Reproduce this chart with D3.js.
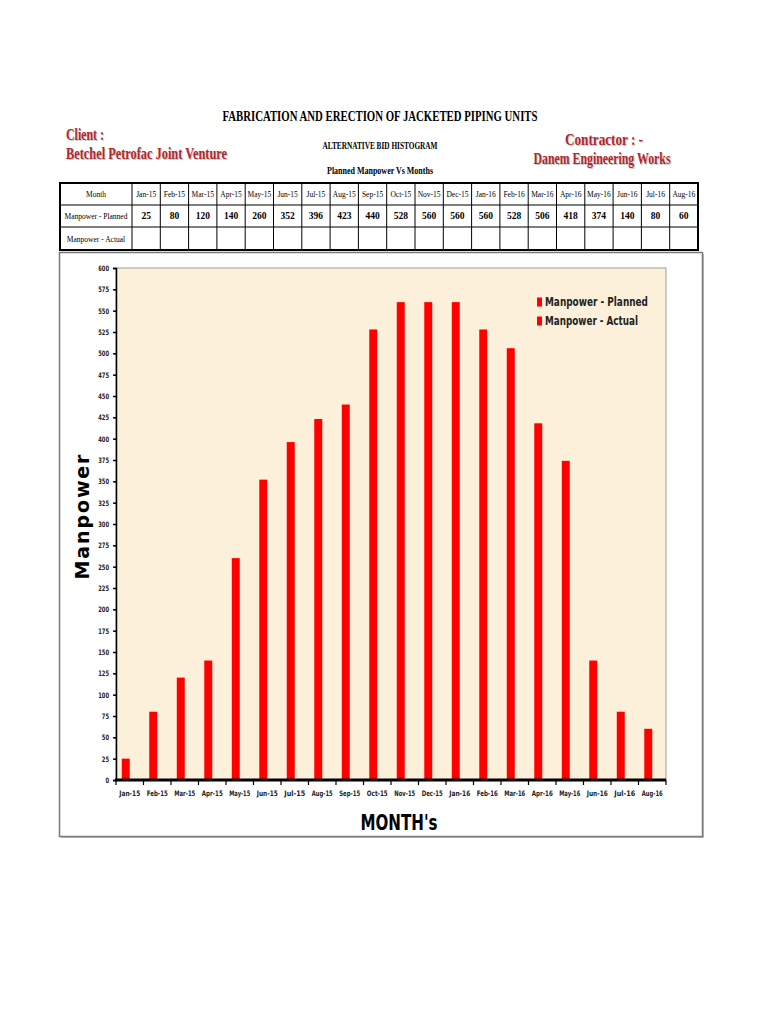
<!DOCTYPE html>
<html>
<head>
<meta charset="utf-8">
<script src="https://cdn.jsdelivr.net/npm/d3@7"></script>
<style>
  body { margin: 0; background: #fff; }
  svg { display: block; }
</style>
</head>
<body>
<svg id="page" width="768" height="1024"></svg>
<script>
const months = ['Jan-15','Feb-15','Mar-15','Apr-15','May-15','Jun-15','Jul-15','Aug-15','Sep-15','Oct-15',
                'Nov-15','Dec-15','Jan-16','Feb-16','Mar-16','Apr-16','May-16','Jun-16','Jul-16','Aug-16'];
const planned = [25, 80, 120, 140, 260, 352, 396, 423, 440, 528, 560, 560, 560, 528, 506, 418, 374, 140, 80, 60];
const actual = [null, null, null, null, null, null, null, null, null, null,
                null, null, null, null, null, null, null, null, null, null];
const seriesNames = ['Manpower - Planned', 'Manpower - Actual'];
const yTicks = [0,25,50,75,100,125,150,175,200,225,250,275,300,325,350,375,400,425,450,475,500,525,550,575,600];

const svg = d3.select('#page');
const serif = "'Liberation Serif', 'DejaVu Serif', serif";
const narrow = "'Liberation Sans Narrow', 'DejaVu Sans Condensed', sans-serif";
const darkRed = '#b3262a';

// ---------- heading texts ----------
svg.append('text')
    .attr('x', 380).attr('y', 121)
    .attr('text-anchor', 'middle')
    .attr('textLength', 315).attr('lengthAdjust', 'spacingAndGlyphs')
    .style('font-family', serif).style('font-weight', 'bold').style('font-size', '15px')
    .text('FABRICATION AND ERECTION OF JACKETED PIPING UNITS');

svg.append('text')
    .attr('x', 380).attr('y', 149)
    .attr('text-anchor', 'middle')
    .attr('textLength', 115).attr('lengthAdjust', 'spacingAndGlyphs')
    .style('font-family', serif).style('font-weight', 'bold').style('font-size', '10px')
    .text('ALTERNATIVE BID HISTOGRAM');

svg.append('text')
    .attr('x', 380).attr('y', 174)
    .attr('text-anchor', 'middle')
    .attr('textLength', 106).attr('lengthAdjust', 'spacingAndGlyphs')
    .style('font-family', serif).style('font-weight', 'bold').style('font-size', '10px')
    .text('Planned Manpower Vs Months');

const redLines = [
    { text: 'Client :', x: 66, y: 140, len: 38, anchor: 'start' },
    { text: 'Betchel Petrofac Joint Venture', x: 66, y: 159, len: 161, anchor: 'start' },
    { text: 'Contractor  : -', x: 604, y: 145, len: 78, anchor: 'middle' },
    { text: 'Danem Engineering Works', x: 602, y: 164, len: 137, anchor: 'middle' }
];
redLines.forEach(d => {
    svg.append('text')
        .attr('x', d.x + 1).attr('y', d.y + 1)
        .attr('text-anchor', d.anchor)
        .attr('textLength', d.len).attr('lengthAdjust', 'spacingAndGlyphs')
        .style('font-family', serif).style('font-weight', 'bold').style('font-size', '16px')
        .style('fill', '#c9c9c9')
        .text(d.text);
    svg.append('text')
        .attr('x', d.x).attr('y', d.y)
        .attr('text-anchor', d.anchor)
        .attr('textLength', d.len).attr('lengthAdjust', 'spacingAndGlyphs')
        .style('font-family', serif).style('font-weight', 'bold').style('font-size', '16px')
        .style('fill', darkRed)
        .text(d.text);
});

// ---------- table ----------
const tblLeft = 60, tblRight = 698, firstCol = 132;
const rowY = [183, 205, 227, 250];
const colX = d3.scaleBand().domain(months).range([firstCol, tblRight]);
const table = svg.append('g');

const rows = [
    { label: 'Month', cells: months, bold: false, size: 7.5 },
    { label: 'Manpower - Planned', cells: planned, bold: true, size: 9.5 },
    { label: 'Manpower - Actual', cells: actual, bold: false, size: 7.5 }
];

rows.forEach((r, i) => {
    const yMid = (rowY[i] + rowY[i + 1]) / 2;
    table.append('text')
        .attr('x', (tblLeft + firstCol) / 2).attr('y', yMid + 3)
        .attr('text-anchor', 'middle')
        .style('font-family', serif).style('font-size', '7.5px')
        .text(r.label);
    table.selectAll(null)
        .data(r.cells)
        .enter()
        .append('text')
        .attr('x', (d, j) => colX(months[j]) + colX.bandwidth() / 2)
        .attr('y', yMid + 3)
        .attr('text-anchor', 'middle')
        .style('font-family', serif)
        .style('font-size', r.size + 'px')
        .style('font-weight', r.bold ? 'bold' : 'normal')
        .text(d => d == null ? '' : d);
});

// grid lines
rowY.slice(1, 3).forEach(y => {
    table.append('line')
        .attr('x1', tblLeft).attr('x2', tblRight).attr('y1', y).attr('y2', y)
        .style('stroke', '#000').style('stroke-width', 1.2);
});
months.forEach(m => {
    table.append('line')
        .attr('x1', colX(m)).attr('x2', colX(m)).attr('y1', rowY[0]).attr('y2', rowY[3])
        .style('stroke', '#000').style('stroke-width', 1);
});
table.append('rect')
    .attr('x', tblLeft).attr('y', rowY[0])
    .attr('width', tblRight - tblLeft).attr('height', rowY[3] - rowY[0])
    .style('fill', 'none').style('stroke', '#000').style('stroke-width', 2);

// ---------- chart frame ----------
svg.append('rect')
    .attr('x', 61).attr('y', 254).attr('width', 643).attr('height', 584)
    .style('fill', '#bdbdbd');
svg.append('rect')
    .attr('x', 59.5).attr('y', 252.5).attr('width', 643).attr('height', 584)
    .style('fill', '#fff').style('stroke', '#7a7a7a').style('stroke-width', 1.5);

// ---------- plot ----------
const plot = { left: 116, right: 666, top: 268, bottom: 780 };

const x = d3.scaleBand()
    .domain(months)
    .range([plot.left, plot.right])
    .paddingInner(0.42)
    .paddingOuter(0.21);

const xSub = d3.scaleBand()
    .domain(seriesNames)
    .range([0, x.bandwidth()]);

const y = d3.scaleLinear()
    .domain([0, 600])
    .range([plot.bottom, plot.top]);

svg.append('rect')
    .attr('x', plot.left).attr('y', plot.top)
    .attr('width', plot.right - plot.left).attr('height', plot.bottom - plot.top)
    .style('fill', '#fcf0da').style('stroke', '#9a9a9a').style('stroke-width', 1);

const seriesData = [planned, actual];
seriesNames.forEach((name, si) => {
    svg.append('g')
        .selectAll('rect')
        .data(seriesData[si].map((v, i) => ({ month: months[i], value: v })).filter(d => d.value != null))
        .enter()
        .append('rect')
        .attr('x', d => x(d.month) + xSub(name))
        .attr('y', d => y(d.value))
        .attr('width', xSub.bandwidth())
        .attr('height', d => y(0) - y(d.value))
        .style('fill', '#ff0000');
});

// y axis
const yAxis = svg.append('g')
    .attr('transform', `translate(${plot.left},0)`)
    .call(d3.axisLeft(y).tickValues(yTicks).tickSize(3).tickPadding(4));
yAxis.select('.domain').style('stroke', '#000').style('stroke-width', 1.5);
yAxis.selectAll('.tick line').style('stroke', '#000').style('stroke-width', 1.5);
yAxis.selectAll('text')
    .style('font-family', narrow).style('font-weight', 'bold').style('font-size', '7.5px')
    .style('fill', '#222')
    .attr('textLength', d => String(d).length * 3.6)
    .attr('lengthAdjust', 'spacingAndGlyphs');

// x axis: ticks sit on the band boundaries
const xAxis = svg.append('g')
    .attr('transform', `translate(0,${plot.bottom})`)
    .call(d3.axisBottom(x).tickSize(0).tickPadding(11));
xAxis.select('.domain').remove();
xAxis.selectAll('text')
    .attr('textLength', 21).attr('lengthAdjust', 'spacingAndGlyphs')
    .style('font-family', narrow).style('font-weight', 'bold').style('font-size', '7.5px')
    .style('fill', '#222');
xAxis.append('line')
    .attr('x1', plot.left - 1).attr('x2', plot.right).attr('y1', 0).attr('y2', 0)
    .style('stroke', '#000').style('stroke-width', 3);
xAxis.selectAll('.boundary')
    .data(months.concat(['end']))
    .enter()
    .append('line')
    .attr('x1', (d, i) => plot.left + i * x.step())
    .attr('x2', (d, i) => plot.left + i * x.step())
    .attr('y1', 0).attr('y2', 5)
    .style('stroke', '#000').style('stroke-width', 1.2);

// axis titles
svg.append('text')
    .attr('transform', 'translate(89,517) rotate(-90)')
    .attr('text-anchor', 'middle')
    .attr('textLength', 125).attr('lengthAdjust', 'spacing')
    .style('font-family', "'DejaVu Sans', sans-serif").style('font-weight', 'bold').style('font-size', '19px')
    .text('Manpower');

svg.append('text')
    .attr('x', 399).attr('y', 830)
    .attr('text-anchor', 'middle')
    .attr('textLength', 77).attr('lengthAdjust', 'spacingAndGlyphs')
    .style('font-family', narrow).style('font-weight', 'bold').style('font-size', '21px')
    .text("MONTH's");

// legend
const legend = svg.append('g').attr('transform', 'translate(537,302)');
seriesNames.forEach((name, i) => {
    const g = legend.append('g').attr('transform', `translate(0,${i * 19})`);
    g.append('rect')
        .attr('x', 0).attr('y', -4.5).attr('width', 5).attr('height', 9)
        .style('fill', '#ff0000');
    g.append('text')
        .attr('x', 8).attr('y', 4)
        .attr('textLength', i === 0 ? 103 : 93).attr('lengthAdjust', 'spacingAndGlyphs')
        .style('font-family', narrow).style('font-weight', 'bold').style('font-size', '12px')
        .style('fill', '#222')
        .text(name);
});
</script>
</body>
</html>
